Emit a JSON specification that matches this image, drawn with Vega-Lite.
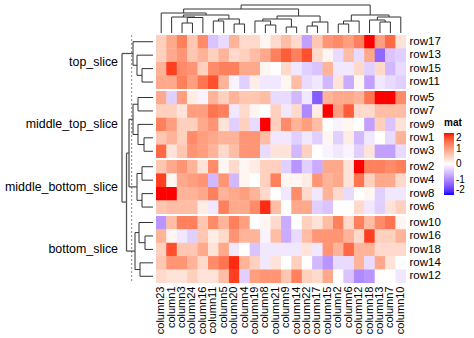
{
  "$schema": "https://vega.github.io/schema/vega-lite/v6.json",
  "padding": {"left": 5, "top": 3, "right": 2, "bottom": 2},
  "columns": 3,
  "spacing": 0,
  "align": "each",
  "config": {
    "view": {"stroke": null},
    "font": "Liberation Sans",
    "axis": {"labelFont": "Liberation Sans", "labelColor": "black"},
    "legend": {"labelFont": "Liberation Sans", "titleFont": "Liberation Sans"}
  },
  "datasets": {
    "cells": [
      {"row":"row17","slice":"top_slice","column23":0.5,"column1":0.9,"column3":1.3,"column24":0.6,"column16":1.2,"column11":-0.5,"column5":-0.3,"column20":0.8,"column4":0.4,"column19":0.4,"column8":0.1,"column21":0.4,"column9":0.7,"column14":0.4,"column22":-0.8,"column17":0.6,"column15":1.1,"column2":1.2,"column6":1.0,"column12":1.3,"column18":2.0,"column13":1.0,"column7":1.5,"column10":0.3},
      {"row":"row13","slice":"top_slice","column23":0.5,"column1":0.9,"column3":1.1,"column24":0.6,"column16":0.8,"column11":0.5,"column5":0.8,"column20":0.4,"column4":0.5,"column19":0.7,"column8":0.9,"column21":1.3,"column9":1.6,"column14":1.3,"column22":1.7,"column17":0.4,"column15":0.1,"column2":-0.3,"column6":0.7,"column12":-0.3,"column18":0.9,"column13":-1.3,"column7":-0.5,"column10":-0.4},
      {"row":"row15","slice":"top_slice","column23":0.8,"column1":1.8,"column3":1.2,"column24":1.1,"column16":0.5,"column11":1.2,"column5":1.3,"column20":1.3,"column4":0.9,"column19":0.9,"column8":0.1,"column21":0.0,"column9":0.4,"column14":-0.2,"column22":-0.4,"column17":-0.5,"column15":0.8,"column2":-0.2,"column6":-0.2,"column12":0.4,"column18":-0.4,"column13":0.4,"column7":-0.6,"column10":-0.3},
      {"row":"row11","slice":"top_slice","column23":0.9,"column1":0.9,"column3":1.3,"column24":1.0,"column16":1.4,"column11":1.7,"column5":0.8,"column20":-0.1,"column4":-0.4,"column19":0.2,"column8":-0.2,"column21":-0.2,"column9":0.1,"column14":0.7,"column22":-0.3,"column17":-0.2,"column15":-0.6,"column2":0.3,"column6":-0.7,"column12":0.1,"column18":-0.8,"column13":-0.2,"column7":-0.3,"column10":-0.4},
      {"row":"row5","slice":"middle_top_slice","column23":0.9,"column1":-0.4,"column3":1.0,"column24":0.2,"column16":-0.1,"column11":0.8,"column5":0.5,"column20":0.8,"column4":0.6,"column19":0.6,"column8":0.7,"column21":-0.3,"column9":-0.3,"column14":-0.6,"column22":-0.2,"column17":-1.4,"column15":0.8,"column2":0.9,"column6":0.9,"column12":0.8,"column18":1.4,"column13":2.0,"column7":2.0,"column10":1.2},
      {"row":"row7","slice":"middle_top_slice","column23":0.5,"column1":0.5,"column3":0.3,"column24":1.0,"column16":1.0,"column11":1.4,"column5":1.3,"column20":-0.2,"column4":0.4,"column19":0.1,"column8":0.0,"column21":0.5,"column9":-0.2,"column14":0.4,"column22":-1.0,"column17":0.2,"column15":2.1,"column2":1.0,"column6":1.6,"column12":0.4,"column18":0.4,"column13":0.7,"column7":0.7,"column10":0.7},
      {"row":"row9","slice":"middle_top_slice","column23":1.3,"column1":1.0,"column3":0.5,"column24":0.5,"column16":0.9,"column11":1.1,"column5":0.3,"column20":-0.4,"column4":0.5,"column19":-0.3,"column8":2.0,"column21":0.5,"column9":1.2,"column14":0.8,"column22":1.0,"column17":0.7,"column15":0.0,"column2":-0.1,"column6":0.1,"column12":0.0,"column18":-0.8,"column13":0.5,"column7":-0.5,"column10":0.3},
      {"row":"row1","slice":"middle_top_slice","column23":0.6,"column1":0.8,"column3":0.5,"column24":1.2,"column16":1.0,"column11":0.9,"column5":0.8,"column20":0.8,"column4":1.1,"column19":1.1,"column8":0.7,"column21":-0.2,"column9":-0.2,"column14":-0.4,"column22":-0.2,"column17":-0.4,"column15":0.1,"column2":-0.4,"column6":0.2,"column12":-0.6,"column18":-0.2,"column13":0.0,"column7":-0.3,"column10":0.8},
      {"row":"row3","slice":"middle_top_slice","column23":1.5,"column1":0.3,"column3":0.6,"column24":1.1,"column16":1.0,"column11":0.8,"column5":0.4,"column20":0.7,"column4":1.1,"column19":1.1,"column8":-0.3,"column21":0.3,"column9":0.3,"column14":-0.6,"column22":0.5,"column17":0.0,"column15":-0.1,"column2":-0.2,"column6":-0.1,"column12":-0.4,"column18":0.3,"column13":-0.8,"column7":-0.8,"column10":-0.3},
      {"row":"row2","slice":"middle_bottom_slice","column23":0.6,"column1":0.9,"column3":1.1,"column24":0.8,"column16":0.3,"column11":1.2,"column5":0.1,"column20":0.4,"column4":0.1,"column19":0.2,"column8":0.5,"column21":0.5,"column9":-0.4,"column14":-0.9,"column22":-0.4,"column17":-0.7,"column15":0.9,"column2":0.9,"column6":0.3,"column12":2.0,"column18":1.3,"column13":1.3,"column7":1.2,"column10":1.3},
      {"row":"row4","slice":"middle_bottom_slice","column23":1.8,"column1":0.1,"column3":0.9,"column24":1.0,"column16":1.1,"column11":-0.6,"column5":1.1,"column20":-0.6,"column4":0.1,"column19":0.0,"column8":0.5,"column21":1.3,"column9":0.1,"column14":0.1,"column22":0.2,"column17":1.1,"column15":0.8,"column2":0.9,"column6":0.3,"column12":1.4,"column18":0.5,"column13":0.9,"column7":0.9,"column10":0.4},
      {"row":"row8","slice":"middle_bottom_slice","column23":2.0,"column1":2.0,"column3":0.8,"column24":0.8,"column16":0.9,"column11":1.3,"column5":0.8,"column20":0.9,"column4":1.0,"column19":0.8,"column8":0.4,"column21":0.0,"column9":-0.2,"column14":1.2,"column22":0.4,"column17":-0.2,"column15":0.8,"column2":0.4,"column6":-0.3,"column12":0.0,"column18":0.1,"column13":-0.4,"column7":-0.2,"column10":-0.2},
      {"row":"row6","slice":"middle_bottom_slice","column23":0.6,"column1":0.7,"column3":0.7,"column24":0.7,"column16":0.2,"column11":-0.2,"column5":1.3,"column20":0.9,"column4":0.9,"column19":1.2,"column8":1.9,"column21":0.7,"column9":0.0,"column14":0.9,"column22":0.9,"column17":-0.4,"column15":-0.5,"column2":0.0,"column6":0.0,"column12":0.4,"column18":-0.2,"column13":-0.4,"column7":0.3,"column10":0.5},
      {"row":"row10","slice":"bottom_slice","column23":-0.9,"column1":0.7,"column3":1.3,"column24":1.3,"column16":0.6,"column11":1.2,"column5":0.8,"column20":1.3,"column4":1.0,"column19":0.0,"column8":0.1,"column21":0.4,"column9":-0.7,"column14":0.0,"column22":0.5,"column17":0.3,"column15":0.7,"column2":1.3,"column6":0.4,"column12":1.3,"column18":0.7,"column13":1.2,"column7":1.4,"column10":0.1},
      {"row":"row16","slice":"bottom_slice","column23":0.8,"column1":0.1,"column3":-0.2,"column24":-0.4,"column16":0.6,"column11":0.2,"column5":0.4,"column20":1.1,"column4":0.8,"column19":0.8,"column8":-0.1,"column21":0.7,"column9":-0.7,"column14":-0.3,"column22":0.7,"column17":1.1,"column15":1.1,"column2":1.1,"column6":0.8,"column12":0.4,"column18":1.8,"column13":0.5,"column7":0.5,"column10":0.8},
      {"row":"row18","slice":"bottom_slice","column23":0.5,"column1":1.7,"column3":0.6,"column24":0.6,"column16":0.9,"column11":0.3,"column5":0.9,"column20":-0.2,"column4":0.0,"column19":-0.5,"column8":-0.2,"column21":-0.2,"column9":-0.2,"column14":-0.2,"column22":0.3,"column17":-0.2,"column15":1.1,"column2":0.8,"column6":1.5,"column12":0.8,"column18":0.8,"column13":0.4,"column7":0.4,"column10":0.4},
      {"row":"row14","slice":"bottom_slice","column23":0.6,"column1":1.1,"column3":1.1,"column24":0.8,"column16":0.4,"column11":1.2,"column5":1.4,"column20":1.9,"column4":0.8,"column19":0.5,"column8":-0.2,"column21":0.3,"column9":0.0,"column14":0.5,"column22":0.0,"column17":-0.6,"column15":-0.9,"column2":-0.3,"column6":-0.3,"column12":0.8,"column18":-0.3,"column13":0.9,"column7":0.3,"column10":0.0},
      {"row":"row12","slice":"bottom_slice","column23":0.4,"column1":0.3,"column3":0.3,"column24":0.5,"column16":0.3,"column11":0.3,"column5":0.7,"column20":1.8,"column4":-0.4,"column19":1.0,"column8":1.1,"column21":1.1,"column9":0.6,"column14":1.3,"column22":0.5,"column17":0.4,"column15":0.9,"column2":0.0,"column6":-0.5,"column12":-1.0,"column18":-0.9,"column13":0.0,"column7":0.0,"column10":-0.2}
    ],
    "colTree": [
      {"l":2.5,"r":3.5,"lh":0,"rh":0,"h":10},
      {"l":3.0,"r":4.5,"lh":10,"rh":0,"h":15.5},
      {"l":1.5,"r":3.75,"lh":0,"rh":15.5,"h":16},
      {"l":5.5,"r":6.5,"lh":0,"rh":0,"h":12},
      {"l":7.5,"r":8.5,"lh":0,"rh":0,"h":9},
      {"l":6.0,"r":8.0,"lh":12,"rh":9,"h":14},
      {"l":2.625,"r":7.0,"lh":16,"rh":14,"h":18},
      {"l":0.5,"r":4.8125,"lh":0,"rh":18,"h":20},
      {"l":10.5,"r":11.5,"lh":0,"rh":0,"h":8},
      {"l":9.5,"r":11.0,"lh":0,"rh":8,"h":12},
      {"l":12.5,"r":13.5,"lh":0,"rh":0,"h":6},
      {"l":10.25,"r":13.0,"lh":12,"rh":6,"h":14},
      {"l":14.5,"r":15.5,"lh":0,"rh":0,"h":7},
      {"l":15.0,"r":16.5,"lh":7,"rh":0,"h":11},
      {"l":11.625,"r":15.75,"lh":14,"rh":11,"h":17},
      {"l":2.656,"r":13.6875,"lh":20,"rh":17,"h":24},
      {"l":17.5,"r":18.5,"lh":0,"rh":0,"h":9},
      {"l":18.0,"r":19.5,"lh":9,"rh":0,"h":12},
      {"l":21.5,"r":22.5,"lh":0,"rh":0,"h":11},
      {"l":20.5,"r":22.0,"lh":0,"rh":11,"h":13},
      {"l":21.25,"r":23.5,"lh":13,"rh":0,"h":16},
      {"l":18.75,"r":22.375,"lh":12,"rh":16,"h":18},
      {"l":8.17,"r":20.5625,"lh":24,"rh":18,"h":28}
    ],
    "sliceTree": [
      {"l":2.5,"r":3.5,"lh":0,"rh":0,"h":11},
      {"l":1.5,"r":3.0,"lh":0,"rh":11,"h":16},
      {"l":0.5,"r":2.25,"lh":0,"rh":16,"h":20},
      {"l":4.65,"r":5.65,"lh":0,"rh":0,"h":15},
      {"l":7.65,"r":8.65,"lh":0,"rh":0,"h":9},
      {"l":6.65,"r":8.15,"lh":0,"rh":9,"h":15},
      {"l":5.15,"r":7.4,"lh":15,"rh":15,"h":20},
      {"l":9.8,"r":10.8,"lh":0,"rh":0,"h":11},
      {"l":11.8,"r":12.8,"lh":0,"rh":0,"h":11},
      {"l":10.3,"r":12.3,"lh":11,"rh":11,"h":16},
      {"l":14.95,"r":15.95,"lh":0,"rh":0,"h":8},
      {"l":13.95,"r":15.45,"lh":0,"rh":8,"h":14},
      {"l":16.95,"r":17.95,"lh":0,"rh":0,"h":13},
      {"l":14.7,"r":17.45,"lh":14,"rh":13,"h":18}
    ],
    "parentTree": [
      {"l":6.275,"r":11.3,"lh":20,"rh":16,"h":24},
      {"l":8.7875,"r":16.075,"lh":24,"rh":18,"h":26.5},
      {"l":1.375,"r":12.43,"lh":20,"rh":26.5,"h":31}
    ],
    "slices": [
      {"slice":"top_slice","pos":2.0},
      {"slice":"middle_top_slice","pos":6.65},
      {"slice":"middle_bottom_slice","pos":11.3},
      {"slice":"bottom_slice","pos":15.95}
    ]
  },
  "concat": [
    {"width": 1, "height": 1, "data": {"values": [{}]}, "mark": {"type": "text", "text": "", "baseline": "top", "align": "left"}, "encoding": {}},
    {"width": 1, "height": 1, "data": {"values": [{}]}, "mark": {"type": "text", "text": "", "baseline": "top", "align": "left"}, "encoding": {}},
    {
      "width": 250, "height": 30,
      "data": {"name": "colTree"},
      "layer": [
        {"mark": {"type": "rule", "color": "#333", "strokeWidth": 1},
         "encoding": {
           "x": {"field": "l", "type": "quantitative", "scale": {"domain": [0, 24], "nice": false, "zero": false}, "axis": null},
           "x2": {"field": "r"},
           "y": {"field": "h", "type": "quantitative", "scale": {"domain": [0, 30], "nice": false}, "axis": null}
         }},
        {"mark": {"type": "rule", "color": "#333", "strokeWidth": 1},
         "encoding": {
           "x": {"field": "l", "type": "quantitative"},
           "y": {"field": "lh", "type": "quantitative"},
           "y2": {"field": "h"}
         }},
        {"mark": {"type": "rule", "color": "#333", "strokeWidth": 1},
         "encoding": {
           "x": {"field": "r", "type": "quantitative"},
           "y": {"field": "rh", "type": "quantitative"},
           "y2": {"field": "h"}
         }}
      ]
    },
    {
      "width": 116, "height": 248,
      "data": {"name": "slices"},
      "mark": {"type": "text", "align": "right", "baseline": "middle", "fontSize": 12.4, "dx": -3, "color": "black"},
      "encoding": {
        "x": {"datum": 1, "type": "quantitative", "scale": {"domain": [0, 1], "nice": false}, "axis": null},
        "y": {"field": "pos", "type": "quantitative", "scale": {"domain": [0, 18.45], "nice": false, "zero": false, "reverse": true}, "axis": null},
        "text": {"field": "slice"}
      }
    },
    {
      "width": 32, "height": 248,
      "layer": [
        {"data": {"values": [{}]},
         "mark": {"type": "rule", "color": "#888", "strokeWidth": 1, "strokeDash": [2, 2]},
         "encoding": {
           "x": {"datum": 21.3, "type": "quantitative", "scale": {"domain": [0, 32], "nice": false, "zero": false, "reverse": true}, "axis": null},
           "y": {"datum": 0, "type": "quantitative", "scale": {"domain": [0, 18.45], "nice": false, "zero": false, "reverse": true}, "axis": null},
           "y2": {"datum": 18.45}
         }},
        {"data": {"name": "sliceTree"}, "mark": {"type": "rule", "color": "#333", "strokeWidth": 1},
         "encoding": {"x": {"field": "h", "type": "quantitative"}, "y": {"field": "l", "type": "quantitative"}, "y2": {"field": "r"}}},
        {"data": {"name": "sliceTree"}, "mark": {"type": "rule", "color": "#333", "strokeWidth": 1},
         "encoding": {"x": {"field": "lh", "type": "quantitative"}, "x2": {"field": "h"}, "y": {"field": "l", "type": "quantitative"}}},
        {"data": {"name": "sliceTree"}, "mark": {"type": "rule", "color": "#333", "strokeWidth": 1},
         "encoding": {"x": {"field": "rh", "type": "quantitative"}, "x2": {"field": "h"}, "y": {"field": "r", "type": "quantitative"}}},
        {"data": {"name": "parentTree"}, "mark": {"type": "rule", "color": "#555", "strokeWidth": 1.3},
         "encoding": {"x": {"field": "h", "type": "quantitative"}, "y": {"field": "l", "type": "quantitative"}, "y2": {"field": "r"}}},
        {"data": {"name": "parentTree"}, "mark": {"type": "rule", "color": "#555", "strokeWidth": 1.3},
         "encoding": {"x": {"field": "lh", "type": "quantitative"}, "x2": {"field": "h"}, "y": {"field": "l", "type": "quantitative"}}},
        {"data": {"name": "parentTree"}, "mark": {"type": "rule", "color": "#555", "strokeWidth": 1.3},
         "encoding": {"x": {"field": "rh", "type": "quantitative"}, "x2": {"field": "h"}, "y": {"field": "r", "type": "quantitative"}}}
      ]
    },
    {
      "spacing": 2,
      "bounds": "flush",
      "vconcat": [
        {
          "width": 250, "height": 54,
          "data": {"name": "cells"},
          "transform": [
            {"filter": "datum.slice === 'top_slice'"},
            {"fold": ["column23","column1","column3","column24","column16","column11","column5","column20","column4","column19","column8","column21","column9","column14","column22","column17","column15","column2","column6","column12","column18","column13","column7","column10"], "as": ["col", "v"]}
          ],
          "encoding": {
            "x": {"field": "col", "type": "nominal", "sort": ["column23","column1","column3","column24","column16","column11","column5","column20","column4","column19","column8","column21","column9","column14","column22","column17","column15","column2","column6","column12","column18","column13","column7","column10"], "axis": null},
            "y": {"field": "row", "type": "nominal", "sort": ["row17","row13","row15","row11"], "axis": {"orient": "right", "title": null, "domain": false, "ticks": false, "labelPadding": 3, "labelFontSize": 11.5}},
            "color": {"field": "v", "type": "quantitative", "scale": {"domain": [-2, 0, 2], "range": ["blue", "white", "red"], "interpolate": "lab", "clamp": true},
              "legend": {"type": "gradient", "title": "mat", "orient": "none", "legendX": 439, "legendY": 115, "values": [-2, -1, 0, 1, 2], "gradientLength": 62, "gradientThickness": 10, "titleFontSize": 10, "titleFontWeight": "bold", "labelFontSize": 10, "labelOverlap": false, "labelExpr": "'' + datum.value"}}
          },
          "layer": [{"mark": "rect"}, {"mark": "rect"}]
        },
        {
          "width": 250, "height": 67,
          "data": {"name": "cells"},
          "transform": [
            {"filter": "datum.slice === 'middle_top_slice'"},
            {"fold": ["column23","column1","column3","column24","column16","column11","column5","column20","column4","column19","column8","column21","column9","column14","column22","column17","column15","column2","column6","column12","column18","column13","column7","column10"], "as": ["col", "v"]}
          ],
          "encoding": {
            "x": {"field": "col", "type": "nominal", "sort": ["column23","column1","column3","column24","column16","column11","column5","column20","column4","column19","column8","column21","column9","column14","column22","column17","column15","column2","column6","column12","column18","column13","column7","column10"], "axis": null},
            "y": {"field": "row", "type": "nominal", "sort": ["row5","row7","row9","row1","row3"], "axis": {"orient": "right", "title": null, "domain": false, "ticks": false, "labelPadding": 3, "labelFontSize": 11.5}},
            "color": {"field": "v", "type": "quantitative", "scale": {"domain": [-2, 0, 2], "range": ["blue", "white", "red"], "interpolate": "lab", "clamp": true},
              "legend": {"type": "gradient", "title": "mat", "orient": "none", "legendX": 439, "legendY": 115, "values": [-2, -1, 0, 1, 2], "gradientLength": 62, "gradientThickness": 10, "titleFontSize": 10, "titleFontWeight": "bold", "labelFontSize": 10, "labelOverlap": false, "labelExpr": "'' + datum.value"}}
          },
          "layer": [{"mark": "rect"}, {"mark": "rect"}]
        },
        {
          "width": 250, "height": 54,
          "data": {"name": "cells"},
          "transform": [
            {"filter": "datum.slice === 'middle_bottom_slice'"},
            {"fold": ["column23","column1","column3","column24","column16","column11","column5","column20","column4","column19","column8","column21","column9","column14","column22","column17","column15","column2","column6","column12","column18","column13","column7","column10"], "as": ["col", "v"]}
          ],
          "encoding": {
            "x": {"field": "col", "type": "nominal", "sort": ["column23","column1","column3","column24","column16","column11","column5","column20","column4","column19","column8","column21","column9","column14","column22","column17","column15","column2","column6","column12","column18","column13","column7","column10"], "axis": null},
            "y": {"field": "row", "type": "nominal", "sort": ["row2","row4","row8","row6"], "axis": {"orient": "right", "title": null, "domain": false, "ticks": false, "labelPadding": 3, "labelFontSize": 11.5}},
            "color": {"field": "v", "type": "quantitative", "scale": {"domain": [-2, 0, 2], "range": ["blue", "white", "red"], "interpolate": "lab", "clamp": true},
              "legend": {"type": "gradient", "title": "mat", "orient": "none", "legendX": 439, "legendY": 115, "values": [-2, -1, 0, 1, 2], "gradientLength": 62, "gradientThickness": 10, "titleFontSize": 10, "titleFontWeight": "bold", "labelFontSize": 10, "labelOverlap": false, "labelExpr": "'' + datum.value"}}
          },
          "layer": [{"mark": "rect"}, {"mark": "rect"}]
        },
        {
          "width": 250, "height": 67,
          "data": {"name": "cells"},
          "transform": [
            {"filter": "datum.slice === 'bottom_slice'"},
            {"fold": ["column23","column1","column3","column24","column16","column11","column5","column20","column4","column19","column8","column21","column9","column14","column22","column17","column15","column2","column6","column12","column18","column13","column7","column10"], "as": ["col", "v"]}
          ],
          "encoding": {
            "x": {"field": "col", "type": "nominal", "sort": ["column23","column1","column3","column24","column16","column11","column5","column20","column4","column19","column8","column21","column9","column14","column22","column17","column15","column2","column6","column12","column18","column13","column7","column10"], "axis": {"orient": "bottom", "title": null, "domain": false, "ticks": false, "labelAngle": -90, "labelPadding": 3, "labelFontSize": 11}},
            "y": {"field": "row", "type": "nominal", "sort": ["row10","row16","row18","row14","row12"], "axis": {"orient": "right", "title": null, "domain": false, "ticks": false, "labelPadding": 3, "labelFontSize": 11.5}},
            "color": {"field": "v", "type": "quantitative", "scale": {"domain": [-2, 0, 2], "range": ["blue", "white", "red"], "interpolate": "lab", "clamp": true},
              "legend": {"type": "gradient", "title": "mat", "orient": "none", "legendX": 439, "legendY": 115, "values": [-2, -1, 0, 1, 2], "gradientLength": 62, "gradientThickness": 10, "titleFontSize": 10, "titleFontWeight": "bold", "labelFontSize": 10, "labelOverlap": false, "labelExpr": "'' + datum.value"}}
          },
          "layer": [{"mark": "rect"}, {"mark": "rect"}]
        }
      ]
    }
  ]
}
